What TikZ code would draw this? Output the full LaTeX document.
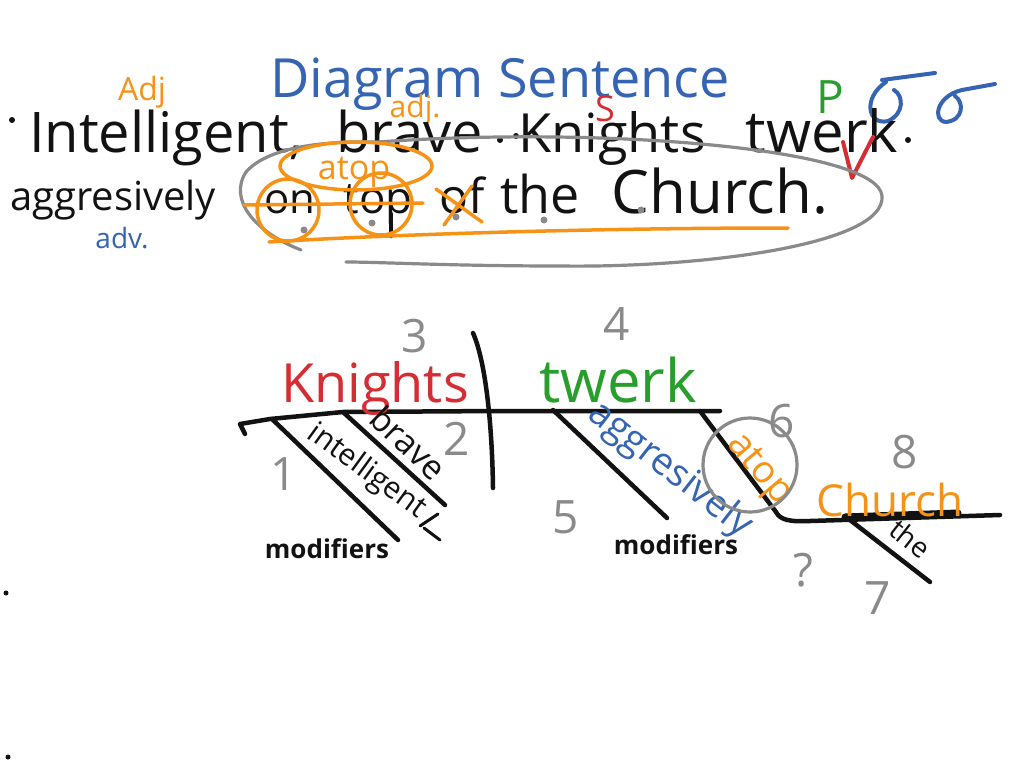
\documentclass[tikz,border=0pt]{standalone}
\usepackage{fontspec}
\setmainfont{Open Sans}
\definecolor{hwblue}{RGB}{52,100,178}
\definecolor{hworange}{RGB}{246,146,22}
\definecolor{hwred}{RGB}{212,46,52}
\definecolor{hwgreen}{RGB}{40,158,44}
\definecolor{hwgray}{RGB}{138,138,138}
\definecolor{hwblack}{RGB}{18,18,18}
\newcommand\hwsize[1]{\fontsize{#1}{#1}\selectfont}
\begin{document}
\begin{tikzpicture}[x=1pt,y=-1pt,
  pen/.style={line width=4.5pt,line cap=round,line join=round,draw=hwblack},
  graypen/.style={line width=3.2pt,line cap=round,line join=round,draw=hwgray},
  orangepen/.style={line width=3.5pt,line cap=round,line join=round,draw=hworange},
  word/.style={inner sep=0pt,anchor=base,text=hwblack},
  num/.style={inner sep=0pt,anchor=base,text=hwgray,font=\hwsize{46}},
  dotmark/.style={fill=#1,draw=none}]
\useasboundingbox[fill=white] (0,0) rectangle (1024,768);

% ---- title and labels over sentence
\node[word,text=hwblue,font=\hwsize{54}] (title) at (500,97) {Diagram Sentence};
\node[word,text=hwgreen,font=\hwsize{46}] (P) at (830,113) {P};
\draw[line width=4pt,line cap=round,line join=round,hwblue]
  (882,80) -- (935,73)
  (886,82) .. controls (862,98) and (868,126) .. (888,121) .. controls (904,114) and (904,96) .. (894,90)
  (995,84) -- (962,90) .. controls (936,96) and (932,121) .. (946,122) .. controls (964,120) and (964,102) .. (955,96);
\node[word,text=hworange,font=\hwsize{32}] (adj1) at (142,100) {Adj};
\node[word,text=hworange,font=\hwsize{30}] (adj2) at (415,117) {adj.};
\node[word,text=hwred,font=\hwsize{36}] (S) at (605,121) {S};

% ---- sentence line 1
\node[word,font=\hwsize{56}] (intel) at (166,152) {Intelligent,};
\node[word,font=\hwsize{56}] (brave) at (410,152) {brave};
\node[word,font=\hwsize{54}] (kn) at (612,152) {Knights};
\node[word,font=\hwsize{58}] (tw) at (822,152) {twerk};
\foreach \p in {(12,120),(500,140),(516,136),(908,140)} \fill[dotmark=hwblack] \p circle[radius=3];
\draw[line width=4pt,line cap=round,line join=round,hwred] (843,142) -- (852,178) -- (873,137);

% ---- sentence line 2
\node[word,font=\hwsize{40}] (aggr) at (113,210) {aggresively};
\node[word,text=hwblue,font=\hwsize{28}] (adv) at (122,248) {adv.};
\node[word,font=\hwsize{42}] (on) at (290,213) {on};
\node[word,font=\hwsize{44}] (top) at (378,213) {top};
\node[word,font=\hwsize{48}] (of) at (462,213) {of};
\node[word,font=\hwsize{52}] (the) at (540,213) {the};
\node[word,font=\hwsize{60}] (church) at (720,213) {Church.};
\draw[pen] (391,214) -- (391,236);
\foreach \p in {(304,230),(372,223),(456,217),(544,220),(641,210)} \fill[dotmark=hwgray] \p circle[radius=3.5];

% gray loop
\draw[graypen] (301,250) .. controls (255,232) and (228,200) .. (246,172)
  .. controls (270,145) and (330,141) .. (378,142)
  .. controls (600,126) and (878,148) .. (882,196)
  .. controls (886,245) and (700,268) .. (560,266)
  .. controls (450,266) and (380,262) .. (346,262);

% orange edits
\draw[orangepen] (356,166) ellipse[x radius=76,y radius=24];
\node[word,text=hworange,font=\hwsize{34}] (atop1) at (354,179) {atop};
\draw[orangepen] (288,210) circle[radius=31];
\draw[orangepen] (381,204) circle[radius=31];
\draw[orangepen] (244,205) -- (423,203);
\draw[orangepen] (269,242) .. controls (400,234) and (600,228) .. (788,228);
\draw[orangepen] (436,189) -- (482,222) (472,186) -- (444,225);

% ---- diagram
\draw[pen] (245,434) -- (240,424) -- (270,419) -- (343,412) -- (500,411) -- (720,411);
\draw[pen] (473,333) .. controls (485,360) and (492,420) .. (493,488);
\draw[pen] (272,419) -- (398,540);
\draw[pen] (343,412) -- (445,505);
\draw[pen] (553,410) -- (667,518);
\draw[pen] (700,411) -- (776,512) .. controls (780,520) and (790,522) .. (810,521) -- (1000,515);
\draw[line width=7pt,line cap=round,hwblack] (845,517) -- (958,513);
\draw[pen] (850,520) -- (930,582);
\draw[line width=3pt,line cap=round,hwblack] (420,526) -- (438,514) (424,528) -- (440,540);

\node[word,text=hwred,font=\hwsize{54}] (knB) at (375,402) {Knights};
\node[word,text=hwgreen,font=\hwsize{60}] (twB) at (618,402) {twerk};
\node[word,font=\hwsize{30},rotate=-36] (intelB) at (362,478) {intelligent};
\node[word,font=\hwsize{34},rotate=-44] (braveB) at (400,452) {brave};
\node[word,text=hwblue,font=\hwsize{38},rotate=-38] (aggB) at (664,478) {aggresively};
\node[word,text=hworange,font=\hwsize{38},rotate=-50] (atopB) at (752,475) {atop};
\node[word,text=hworange,font=\hwsize{44}] (churchB) at (890,516) {Church};
\node[word,font=\hwsize{28},rotate=-38] (theB) at (904,547) {the};
\node[word,font=\hwsize{26}] (mod1) at (327,558) {\bfseries modifiers};
\node[word,font=\hwsize{26}] (mod2) at (676,554) {\bfseries modifiers};
\draw[graypen] (750,465) circle[radius=47];

\node[num] (n3) at (415,352) {3};
\node[num] (n4) at (617,340) {4};
\node[num] (n2) at (457,455) {2};
\node[num] (n1) at (284,490) {1};
\node[num] (n5) at (566,533) {5};
\node[num] (n6) at (782,437) {6};
\node[num] (n8) at (905,468) {8};
\node[num] (nq) at (803,586) {?};
\node[num] (n7) at (878,614) {7};

\fill[dotmark=hwblack] (6,593) circle[radius=2.5];
\fill[dotmark=hwblack] (8,757) circle[radius=2.5];
\end{tikzpicture}
\end{document}
